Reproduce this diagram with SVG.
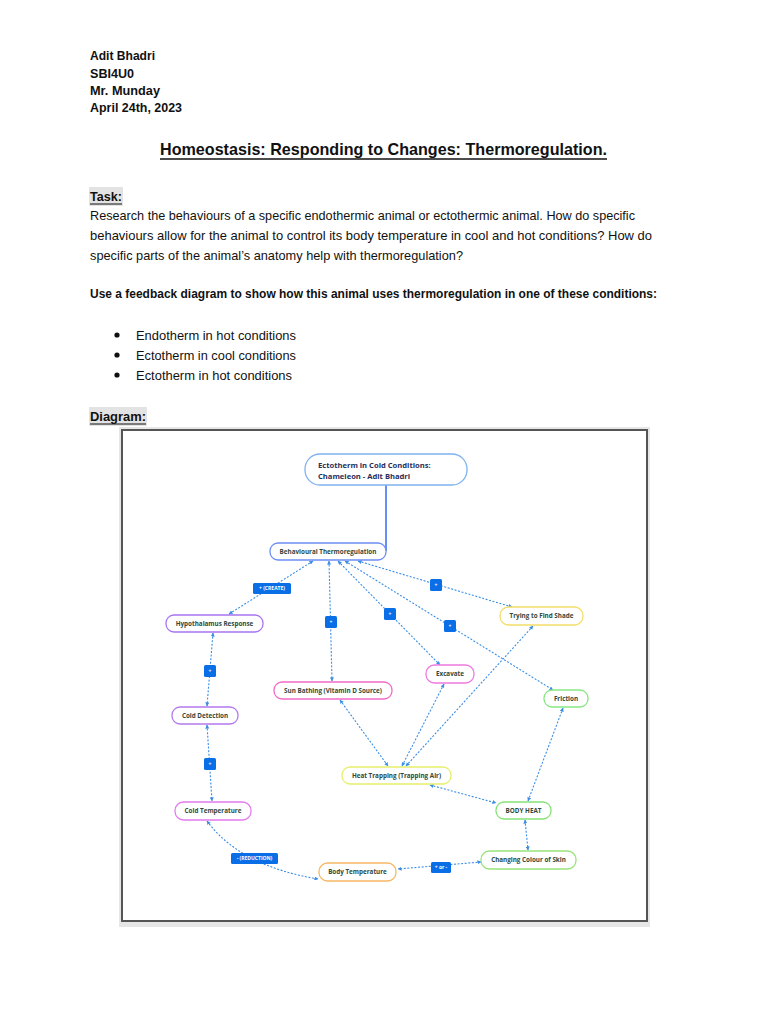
<svg xmlns="http://www.w3.org/2000/svg" width="768" height="1024" viewBox="0 0 768 1024">
<defs>
<marker id="ah" viewBox="0 0 10 10" refX="9" refY="5" markerWidth="4" markerHeight="4" markerUnits="userSpaceOnUse" orient="auto-start-reverse">
<path d="M0,0 L10,5 L0,10 z" fill="#3b8ee6"/>
</marker>
</defs>
<style>
.doc{font-family:"Liberation Sans",Arial,sans-serif;font-size:13.5px;fill:#111}
.b{font-weight:bold}
.node rect{fill:#fff;stroke-width:1.3}
.node text{font-family:"Open Sans","Noto Sans",sans-serif;font-weight:bold;font-size:6.3px;fill:#2e4a3e;text-anchor:middle}
.conn line,.conn path{stroke:#3b8ee6;stroke-width:1.1;stroke-dasharray:2 1.6;fill:none;marker-start:url(#ah);marker-end:url(#ah)}
.lbl rect{fill:#0a6fe6}
.lbl text{font-family:"Open Sans","Noto Sans",sans-serif;font-weight:bold;font-size:5px;fill:#fff;text-anchor:middle}
</style>
<rect width="768" height="1024" fill="#fff"/>

<g id="header">
<text class="doc b" x="90" y="60" textLength="65" lengthAdjust="spacingAndGlyphs">Adit Bhadri</text>
<text class="doc b" x="90" y="78" textLength="44" lengthAdjust="spacingAndGlyphs">SBI4U0</text>
<text class="doc b" x="90" y="95" textLength="70" lengthAdjust="spacingAndGlyphs">Mr. Munday</text>
<text class="doc b" x="90" y="112" textLength="92" lengthAdjust="spacingAndGlyphs">April 24th, 2023</text>
<text class="doc b" x="160" y="155" style="font-size:17px" textLength="447" lengthAdjust="spacingAndGlyphs">Homeostasis: Responding to Changes: Thermoregulation.</text>
<line x1="160" y1="159" x2="607" y2="159" stroke="#111" stroke-width="1.3"/>
<rect x="89" y="187" width="34" height="19" fill="#e3e3e3"/>
<text class="doc b" x="90" y="201" textLength="32" lengthAdjust="spacingAndGlyphs">Task:</text>
<line x1="90" y1="204" x2="122" y2="204" stroke="#111" stroke-width="1"/>
<text class="doc" x="90" y="220" textLength="545" lengthAdjust="spacingAndGlyphs">Research the behaviours of a specific endothermic animal or ectothermic animal. How do specific</text>
<text class="doc" x="90" y="240" textLength="562" lengthAdjust="spacingAndGlyphs">behaviours allow for the animal to control its body temperature in cool and hot conditions?  How do</text>
<text class="doc" x="90" y="260" textLength="373" lengthAdjust="spacingAndGlyphs">specific parts of the animal’s anatomy help with thermoregulation?</text>
<text class="doc b" x="90" y="298" textLength="567" lengthAdjust="spacingAndGlyphs">Use a feedback diagram to show how this animal uses thermoregulation in one of these conditions:</text>
<circle cx="117" cy="335" r="2.6" fill="#111"/>
<circle cx="117" cy="355" r="2.6" fill="#111"/>
<circle cx="117" cy="375" r="2.6" fill="#111"/>
<text class="doc" x="136" y="340" textLength="160" lengthAdjust="spacingAndGlyphs">Endotherm in hot conditions</text>
<text class="doc" x="136" y="360" textLength="160" lengthAdjust="spacingAndGlyphs">Ectotherm in cool conditions</text>
<text class="doc" x="136" y="380" textLength="156" lengthAdjust="spacingAndGlyphs">Ectotherm in hot conditions</text>
<rect x="89" y="407" width="58" height="19" fill="#e3e3e3"/>
<text class="doc b" x="90" y="421" textLength="56" lengthAdjust="spacingAndGlyphs">Diagram:</text>
<line x1="90" y1="424" x2="146" y2="424" stroke="#111" stroke-width="1"/>
</g>

<g id="frame">
<rect x="119" y="427" width="531" height="500" fill="#e6e6e6"/>
<rect x="122" y="430" width="525" height="491" fill="#fff" stroke="#555" stroke-width="2"/>
</g>

<g id="connectors">
<line x1="386" y1="485" x2="386" y2="551" style="stroke:#3f74f0;stroke-width:1.6;stroke-dasharray:none;marker-start:none;marker-end:none"/>
<g class="conn">
<line x1="313" y1="561" x2="229" y2="614"/>
<line x1="329" y1="561" x2="332" y2="681"/>
<line x1="338" y1="561" x2="440" y2="665"/>
<line x1="345" y1="561" x2="553" y2="690"/>
<line x1="358" y1="561" x2="512" y2="607"/>
<line x1="213" y1="633" x2="207" y2="706"/>
<line x1="207" y1="725" x2="212" y2="801"/>
<path d="M207,821 Q240,866 318,879"/>
<line x1="481" y1="862" x2="398" y2="869"/>
<line x1="525" y1="820" x2="528" y2="850"/>
<line x1="563" y1="708" x2="528" y2="801"/>
<line x1="430" y1="785" x2="496" y2="803"/>
<line x1="340" y1="700" x2="388" y2="766"/>
<line x1="444" y1="684" x2="402" y2="766"/>
<line x1="533" y1="626" x2="406" y2="766"/>
</g>
<g class="lbl">
<rect x="253" y="583" width="38" height="11" rx="1.5"/><text x="272" y="590.3">+ (CREATE)</text>
<rect x="325" y="616" width="12" height="12" rx="1.5"/><text x="331" y="623.7">+</text>
<rect x="384" y="608" width="12" height="12" rx="1.5"/><text x="390" y="615.7">+</text>
<rect x="430" y="579" width="12" height="12" rx="1.5"/><text x="436" y="586.7">+</text>
<rect x="444" y="620" width="12" height="12" rx="1.5"/><text x="450" y="627.7">+</text>
<rect x="204" y="665" width="12" height="12" rx="1.5"/><text x="210" y="672.7">+</text>
<rect x="204" y="758" width="12" height="12" rx="1.5"/><text x="210" y="765.7">+</text>
<rect x="231" y="853" width="47" height="11" rx="1.5"/><text x="254.5" y="860.3">- (REDUCTION)</text>
<rect x="431" y="862" width="20" height="11" rx="1.5"/><text x="441" y="869.3">+ or -</text>
</g>
</g>

<g id="n-title" class="node">
<rect x="305" y="454" width="162" height="31" rx="15" style="stroke:#7fb2ee"/>
<text x="318" y="468" style="text-anchor:start;font-size:7.6px;fill:#1f2f5c">Ectotherm in Cold Conditions:</text>
<text x="318" y="479" style="text-anchor:start;font-size:7.6px;fill:#1f2f5c">Chameleon - Adit Bhadri</text>
</g>
<g id="n-behavioural" class="node">
<rect x="270" y="543" width="116" height="17" rx="8" style="stroke:#6d8ef5"/>
<text x="328" y="554">Behavioural Thermoregulation</text>
</g>
<g id="n-hypothalamus" class="node">
<rect x="166" y="615" width="97" height="17" rx="8" style="stroke:#a874f2"/>
<text x="214.5" y="626">Hypothalamus Response</text>
</g>
<g id="n-shade" class="node">
<rect x="500" y="607" width="83" height="18" rx="8.5" style="stroke:#f5dd6a"/>
<text x="541.5" y="618.3">Trying to Find Shade</text>
</g>
<g id="n-excavate" class="node">
<rect x="426" y="665" width="48" height="18" rx="8.5" style="stroke:#f07ae0"/>
<text x="450" y="676.3">Excavate</text>
</g>
<g id="n-sun" class="node">
<rect x="274" y="682" width="118" height="17" rx="8" style="stroke:#f26ac6"/>
<text x="333" y="692.8">Sun Bathing (Vitamin D Source)</text>
</g>
<g id="n-friction" class="node">
<rect x="544" y="690" width="44" height="17" rx="8" style="stroke:#86e882"/>
<text x="566" y="700.8">Friction</text>
</g>
<g id="n-colddetection" class="node">
<rect x="172" y="707" width="66" height="17" rx="8" style="stroke:#b478f0"/>
<text x="205" y="717.8">Cold Detection</text>
</g>
<g id="n-heattrapping" class="node">
<rect x="342" y="767" width="109" height="17" rx="8" style="stroke:#e6f06a"/>
<text x="396.5" y="777.8">Heat Trapping (Trapping Air)</text>
</g>
<g id="n-coldtemp" class="node">
<rect x="175" y="802" width="76" height="18" rx="8.5" style="stroke:#e47af0"/>
<text x="213" y="813.3">Cold Temperature</text>
</g>
<g id="n-bodyheat" class="node">
<rect x="496" y="802" width="55" height="17" rx="8" style="stroke:#86e276"/>
<text x="523.5" y="812.8">BODY HEAT</text>
</g>
<g id="n-changing" class="node">
<rect x="481" y="851" width="95" height="18" rx="8.5" style="stroke:#98e47a"/>
<text x="528.5" y="862.3">Changing Colour of Skin</text>
</g>
<g id="n-bodytemp" class="node">
<rect x="319" y="863" width="77" height="18" rx="8.5" style="stroke:#f7b866"/>
<text x="357.5" y="874.3">Body Temperature</text>
</g>
</svg>
